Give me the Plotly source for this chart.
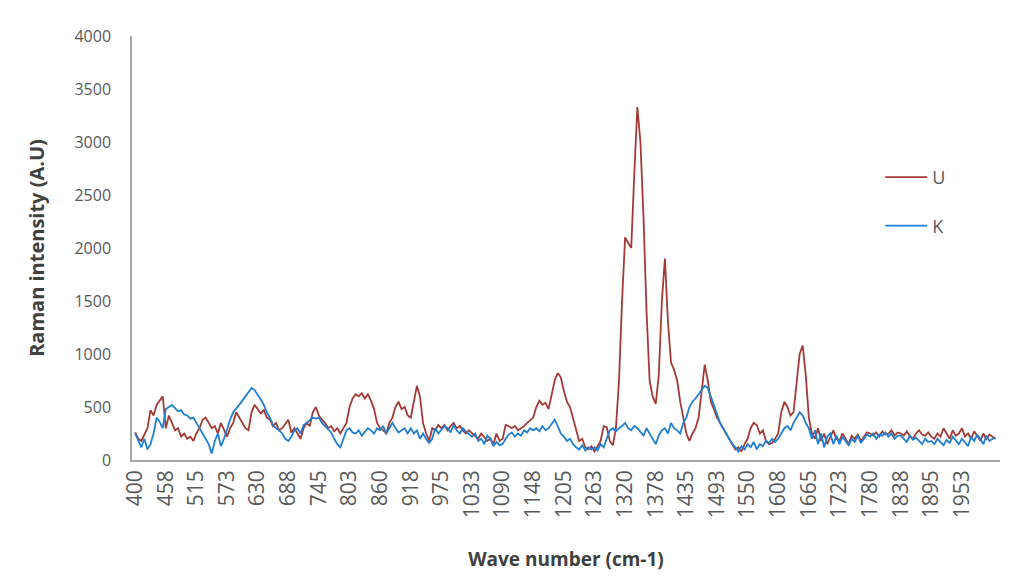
import numpy as np
import plotly.graph_objects as go

# Wave-number sampling grid (cm-1): 400 start, 5.75 step (10 samples per labelled tick)
wn_start = 400.0
wn_step = 5.75

tick_labels = ["400", "458", "515", "573", "630", "688", "745", "803", "860", "918",
               "975", "1033", "1090", "1148", "1205", "1263", "1320", "1378", "1435",
               "1493", "1550", "1608", "1665", "1723", "1780", "1838", "1895", "1953"]

U = [
    260, 200, 180, 240, 300, 470, 420, 520, 560, 600,
    300, 420, 350, 280, 300, 220, 250, 200, 220, 180,
    250, 300, 380, 400, 350, 300, 320, 250, 350, 280,
    220, 300, 350, 450, 400, 350, 300, 280, 450, 520,
    480, 440, 470, 400, 380, 320, 350, 280, 300, 340,
    380, 260, 300, 250, 200, 300, 350, 320, 450, 500,
    420, 380, 350, 300, 320, 270, 300, 250, 300, 350,
    500, 580, 620, 600, 630, 580, 620, 560, 480, 350,
    300, 280, 250, 350, 400, 500, 550, 480, 500, 420,
    400, 550, 700, 600, 350, 250, 180, 300, 280, 330,
    300, 330, 280, 320, 350, 300, 320, 280, 250, 280,
    250, 230, 200, 250, 220, 180, 200, 150, 250, 180,
    200, 330, 320, 300, 320, 280, 300, 320, 350, 380,
    400, 500, 560, 520, 540, 480, 600, 750, 820, 780,
    650, 550, 500, 400, 300, 180, 200, 120, 100, 130,
    80, 130, 180, 320, 310, 180, 140, 300, 750, 1500,
    2100, 2050, 2000, 2700, 3330, 3000, 2300, 1400, 750, 600,
    530, 800, 1500, 1900, 1300, 920, 850, 750, 550, 400,
    250, 180, 250, 300, 400, 650, 900, 750, 550, 480,
    400, 350, 300, 250, 200, 150, 100, 120, 80, 150,
    200, 300, 350, 330, 250, 280, 180, 150, 160, 200,
    250, 450, 550, 500, 420, 450, 700, 1000, 1080, 800,
    400, 250, 200, 300, 180, 250, 150, 220, 280, 200,
    180, 250, 200, 150, 230, 200, 240, 180, 220, 260,
    250, 230, 260, 220, 270, 240, 250, 280, 230, 260,
    250, 230, 270, 220, 200, 250, 280, 240, 230, 260,
    220, 200, 250, 220, 300, 250, 200, 280, 230, 250,
    300, 220, 250, 200, 270, 230, 180, 250, 200, 240, 220, 200,
]

K = [
    250, 180, 120, 200, 100, 150, 250, 400, 360, 300,
    480, 500, 520, 490, 460, 470, 430, 420, 390, 400,
    350, 300, 250, 200, 150, 60, 180, 250, 130, 200,
    300, 380, 450, 480, 520, 560, 600, 650, 680, 660,
    620, 570, 520, 450, 400, 330, 300, 280, 250, 200,
    180, 220, 280, 300, 250, 330, 350, 380, 400, 390,
    400, 350, 320, 300, 260, 200, 150, 120, 200, 280,
    300, 260, 250, 280, 230, 260, 300, 280, 250, 300,
    280, 320, 250, 300, 350, 300, 260, 280, 300, 250,
    300, 250, 280, 200, 250, 200, 160, 200, 300, 250,
    280, 320, 300, 260, 330, 280, 250, 300, 270, 240,
    220, 250, 180, 200, 150, 230, 200, 130, 170, 140,
    150, 200, 240, 260, 220, 250, 230, 280, 260, 300,
    280, 300, 270, 320, 280, 300, 340, 380, 320, 250,
    220, 180, 200, 150, 120, 100, 140, 90, 120, 100,
    120, 90, 150, 120, 200, 280, 300, 270, 300, 320,
    350, 300, 280, 320, 300, 270, 230, 300, 250, 200,
    150, 230, 280, 300, 250, 350, 300, 280, 250, 350,
    400, 500, 550, 580, 620, 650, 700, 680, 600, 520,
    420, 350, 300, 250, 200, 150, 120, 80, 130, 100,
    150, 120, 170, 100, 150, 130, 180, 160, 200, 170,
    200, 250, 300, 320, 280, 350, 400, 450, 420, 350,
    300, 200, 280, 150, 250, 120, 220, 250, 150, 230,
    150, 220, 180, 140, 200, 170, 230, 160, 200, 240,
    220, 250, 200, 240, 230, 260, 220, 250, 200, 230,
    230, 200, 170, 230, 190, 210, 180, 150, 200, 170,
    180, 150, 200, 170, 140, 190, 160, 220, 180, 150,
    200, 170, 130, 220, 180, 240, 200, 150, 230, 180, 200, 210,
]

wn = wn_start + wn_step * np.arange(len(U))
tick_vals = [wn_start + 10 * wn_step * k for k in range(len(tick_labels))]

fig = go.Figure()
fig.add_trace(go.Scatter(x=wn, y=U, mode="lines", name="U", legendgroup="u",
                         line=dict(color="#A23B35", width=1.8)))
fig.add_trace(go.Scatter(x=wn, y=K, mode="lines", name="K", legendgroup="k",
                         line=dict(color="#1E7FD3", width=1.8)))

font_fam = "Open Sans, Noto Sans, sans-serif"
fig.update_layout(
    width=1024, height=584,
    margin=dict(l=132, r=24, t=36, b=124),
    paper_bgcolor="white", plot_bgcolor="white",
    font=dict(family=font_fam, color="#595959"),
    showlegend=True,
    legend=dict(x=0.862, y=0.71, xanchor="left", yanchor="top",
                traceorder="grouped", tracegroupgap=22, itemwidth=42,
                font=dict(size=18, color="#595959"), bgcolor="rgba(0,0,0,0)"),
    xaxis=dict(range=[394, 2024], tickvals=tick_vals, ticktext=tick_labels,
               tickangle=-90, tickfont=dict(size=21, color="#595959"),
               showline=True, linecolor="#A6A6A6", linewidth=1.5,
               showgrid=False, zeroline=False, ticks="",
               title=dict(text="<b>Wave number (cm-1)</b>", standoff=36,
                          font=dict(size=19, color="#404040"))),
    yaxis=dict(range=[0, 4000], tickvals=list(range(0, 4001, 500)),
               tickfont=dict(size=16, color="#595959"),
               showline=True, linecolor="#A6A6A6", linewidth=1.5,
               showgrid=False, zeroline=False, ticks="",
               ticklabelstandoff=16,
               title=dict(text="<b>Raman intensity (A.U)</b>", standoff=24,
                          font=dict(size=20, color="#404040"))),
)

fig.write_html("out.html")
